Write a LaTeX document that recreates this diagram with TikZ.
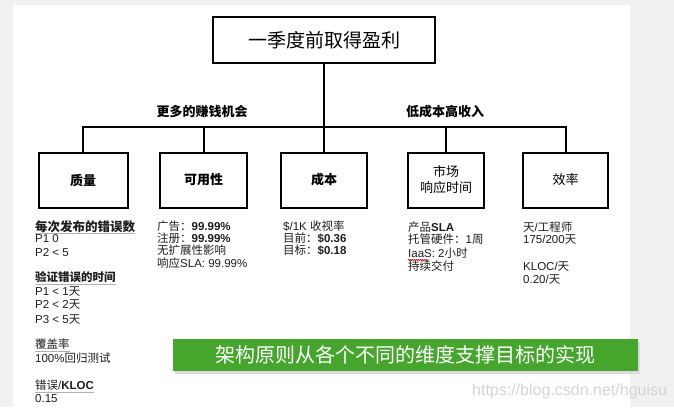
\documentclass[tikz,border=0pt]{standalone}
\usepackage{fontspec}
\setmainfont{Liberation Sans}
\newfontfamily\cjk{Noto Sans CJK SC}
\usetikzlibrary{decorations.pathmorphing}
\definecolor{bggray}{HTML}{F1F1F1}
\definecolor{bannergreen}{HTML}{45A52D}
\definecolor{txtgray}{HTML}{1E1E1E}
\newcommand\colline[4]{\node[txt] (#1) at (#2,#3) {#4};}
\begin{document}
\begin{tikzpicture}[x=1pt,y=-1pt,
  box/.style={draw, line width=2pt, minimum height=55pt, inner sep=0pt, align=center,
    font=\cjk\fontsize{13}{16}\selectfont},
  boldbox/.style={box, font=\cjk\bfseries\fontsize{13}{16}\selectfont},
  wire/.style={line width=2pt, line join=miter},
  txt/.style={anchor=base west, inner sep=0pt, text=txtgray, font=\fontsize{11.5}{13}\selectfont},
  branch/.style={inner sep=0pt, font=\cjk\bfseries\fontsize{13}{15}\selectfont},
  uline/.style={black!30, line width=0.6pt},
]
\useasboundingbox (0,0) rectangle (674,407);
\fill[bggray] (0,0) rectangle (674,407);
\fill[white] (13,5) rectangle (630,407);

% title and boxes
\node[box, minimum width=222pt, minimum height=46pt, font=\cjk\fontsize{19}{21}\selectfont] (top) at (324,40) {一季度前取得盈利};
\node[boldbox, minimum width=89pt] (q) at (83,180.5) {质量};
\node[boldbox, minimum width=87pt] (p) at (203.5,180) {可用性};
\node[boldbox, minimum width=86pt] (c) at (324,180) {成本};
\node[box, minimum width=76pt] (m) at (446,180) {市场\\响应时间};
\node[box, minimum width=85pt] (e) at (565.5,180) {效率};

\coordinate (bus) at (324,127);
\draw[wire] (q.north) |- (bus) -| (e.north);
\draw[wire] (top.south) -- (c.north);
\draw[wire] (p.north) -- (p.north |- bus);
\draw[wire] (m.north) -- (m.north |- bus);

\node[branch] (l1) at (202,112) {更多的赚钱机会};
\node[branch] (l2) at (445,112) {低成本高收入};

% column 1
\colline{h1}{35}{231}{\fontsize{12.5}{14}\selectfont\bfseries\cjk 每次发布的错误数}
\colline{a2}{35}{242.5}{P1 0}
\colline{a3}{35}{256.5}{P2 < 5}
\colline{h2}{35}{281.5}{\bfseries\cjk 验证错误的时间}
\colline{a5}{35}{295.5}{P1 < 1{\cjk 天}}
\colline{a6}{35}{308.5}{P2 < 2{\cjk 天}}
\colline{a7}{35}{323.5}{P3 < 5{\cjk 天}}
\colline{h3}{35}{348.5}{\cjk 覆盖率}
\colline{a9}{35}{362.5}{100\%{\cjk 回归测试}}
\colline{h4}{35}{389.5}{{\cjk 错误}/\textbf{KLOC}}
\colline{a11}{35}{402.5}{0.15}
\foreach \h in {h1,h2,h3,h4}
  \draw[uline] ([yshift=-2.5pt]\h.base west) -- ([yshift=-2.5pt]\h.base east);

% column 2
\colline{b1}{157}{230.5}{{\cjk 广告：}\textbf{99.99\%}}
\colline{b2}{157}{242.5}{{\cjk 注册：}\textbf{99.99\%}}
\colline{b3}{157}{254}{\cjk 无扩展性影响}
\colline{b4}{157}{267}{{\cjk 响应}SLA: 99.99\%}

% column 3
\colline{c1}{283}{230.5}{\$/1K {\cjk 收视率}}
\colline{c2}{283}{242.5}{{\cjk 目前：}\textbf{\$0.36}}
\colline{c3}{283}{254.5}{{\cjk 目标：}\textbf{\$0.18}}

% column 4
\colline{d1}{408}{231.5}{{\cjk 产品}\textbf{SLA}}
\colline{d2}{408}{243.5}{{\cjk 托管硬件：}1{\cjk 周}}
\colline{d3}{408}{257.5}{IaaS: 2{\cjk 小时}}
\colline{d4}{408}{270.5}{\cjk 持续交付}
\draw[red!80!black, line width=0.6pt, decorate, decoration={snake, amplitude=0.5pt, segment length=2pt}]
  ([yshift=-2.5pt]d3.base west) -- ++(21,0);

% column 5
\colline{e1}{523}{231.5}{{\cjk 天}/{\cjk 工程师}}
\colline{e2}{523}{243.5}{175/200{\cjk 天}}
\colline{e3}{523}{270.5}{KLOC/{\cjk 天}}
\colline{e4}{523}{283.5}{0.20/{\cjk 天}}

% banner
\fill[black!14] (175,341.5) rectangle (640,374);
\node[fill=bannergreen, minimum width=465pt, minimum height=32pt, inner sep=0pt, text=white,
  font=\cjk\fontsize{20}{22}\selectfont] (banner) at (405.5,355) {架构原则从各个不同的维度支撑目标的实现};

% watermark
\node[anchor=base west, inner sep=0pt, text=black!17, font=\fontsize{16}{18}\selectfont] (wm) at (472,395) {https://blog.csdn.net/hguisu};
\end{tikzpicture}
\end{document}
